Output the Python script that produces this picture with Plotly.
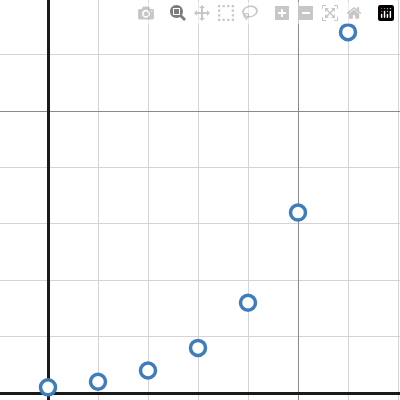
import plotly.graph_objects as go

xs = [0, 1, 2, 3, 4, 5, 6]
ys = [0.1, 0.2, 0.4, 0.8, 1.6, 3.2, 6.4]

fig = go.Figure(go.Scatter(x=xs, y=ys, mode="markers",
    marker=dict(size=15, color="white", line=dict(color="#3f7cbc", width=3.5))))

ax = dict(showticklabels=False, ticks="", dtick=5, gridcolor="#8a8a8a", gridwidth=1,
          minor=dict(dtick=1, gridcolor="#d4d4d4", gridwidth=1, showgrid=True),
          zeroline=True, zerolinecolor="#1a1a1a", zerolinewidth=2.5, showline=False)
fig.update_xaxes(range=[-0.96, 7.04], **ax)
fig.update_yaxes(range=[-0.124, 6.97], **ax)
fig.update_layout(width=400, height=400, margin=dict(l=0, r=0, t=0, b=0),
                  plot_bgcolor="white", paper_bgcolor="white", showlegend=False)
fig.write_html("out.html", post_script="document.body.style.margin='0';document.body.style.overflow='hidden';")
